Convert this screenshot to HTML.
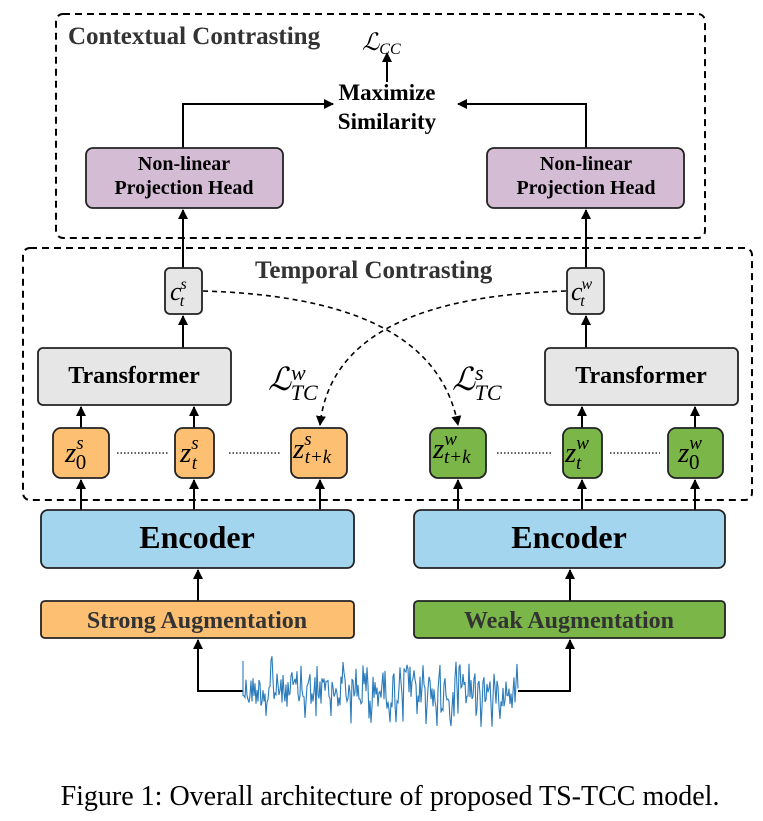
<!DOCTYPE html>
<html><head><meta charset="utf-8"><style>
html,body{margin:0;padding:0;background:#fff;width:763px;height:821px;overflow:hidden}
svg text{font-family:"Liberation Serif",serif}
</style></head><body>
<svg width="763" height="821" viewBox="0 0 763 821" xmlns="http://www.w3.org/2000/svg">
<defs>
<marker id="a" markerWidth="10" markerHeight="10" refX="9" refY="5" orient="auto" markerUnits="userSpaceOnUse"><path d="M0,0 L10,5 L0,10 z" fill="#000"/></marker>
</defs>
<g fill="none" stroke="#000" stroke-width="2" stroke-dasharray="7,5">
<rect x="56" y="14" width="649" height="224" rx="7"/>
<rect x="23" y="248" width="729" height="252" rx="7"/>
</g>
<text x="68" y="44" font-size="25" font-weight="bold" fill="#333">Contextual Contrasting</text>
<text x="255" y="278" font-size="25" font-weight="bold" fill="#333">Temporal Contrasting</text>
<text x="362" y="50" font-size="24" font-style="italic">ℒ<tspan font-size="16" dy="4">CC</tspan></text>
<text x="387" y="100" font-size="23" font-weight="bold" text-anchor="middle">Maximize</text>
<text x="387" y="129" font-size="23" font-weight="bold" text-anchor="middle">Similarity</text>
<g stroke="#000" stroke-width="2" fill="none">
<line x1="387" y1="82" x2="387" y2="53" marker-end="url(#a)"/>
<polyline points="183,148 183,104 333,104" marker-end="url(#a)"/>
<polyline points="586,148 586,104 458,104" marker-end="url(#a)"/>
<line x1="183" y1="268" x2="183" y2="210" marker-end="url(#a)"/>
<line x1="586" y1="268" x2="586" y2="210" marker-end="url(#a)"/>
<line x1="183" y1="348" x2="183" y2="316" marker-end="url(#a)"/>
<line x1="586" y1="348" x2="586" y2="316" marker-end="url(#a)"/>
<line x1="81" y1="428" x2="81" y2="407" marker-end="url(#a)"/>
<line x1="194" y1="428" x2="194" y2="407" marker-end="url(#a)"/>
<line x1="582" y1="428" x2="582" y2="407" marker-end="url(#a)"/>
<line x1="695" y1="428" x2="695" y2="407" marker-end="url(#a)"/>
<line x1="81" y1="510" x2="81" y2="480" marker-end="url(#a)"/>
<line x1="194" y1="510" x2="194" y2="480" marker-end="url(#a)"/>
<line x1="320" y1="510" x2="320" y2="480" marker-end="url(#a)"/>
<line x1="458" y1="510" x2="458" y2="480" marker-end="url(#a)"/>
<line x1="582" y1="510" x2="582" y2="480" marker-end="url(#a)"/>
<line x1="695" y1="510" x2="695" y2="480" marker-end="url(#a)"/>
<line x1="198" y1="601" x2="198" y2="570" marker-end="url(#a)"/>
<line x1="570" y1="601" x2="570" y2="570" marker-end="url(#a)"/>
<polyline points="243,691 198,691 198,640" marker-end="url(#a)"/>
<polyline points="518,691 570,691 570,640" marker-end="url(#a)"/>
</g>
<g stroke="#000" stroke-width="1.6" fill="none" stroke-dasharray="5,4">
<path d="M203,291 C340,295 440,330 458,425" marker-end="url(#a)"/>
<path d="M566,291 C430,295 330,330 320,425" marker-end="url(#a)"/>
</g>
<g stroke="#000" stroke-width="1.3" stroke-dasharray="1.5,2">
<line x1="117" y1="453" x2="168" y2="453"/><line x1="229" y1="453" x2="280" y2="453"/>
<line x1="497" y1="453" x2="553" y2="453"/><line x1="610" y1="453" x2="660" y2="453"/>
</g>
<g stroke="#222" stroke-width="1.8">
<rect x="86" y="148" width="197" height="60" rx="7" fill="#d5bcd5"/>
<rect x="487" y="148" width="197" height="60" rx="7" fill="#d5bcd5"/>
<rect x="165" y="268" width="37" height="46" rx="5" fill="#e6e6e6"/>
<rect x="567" y="268" width="37" height="46" rx="5" fill="#e6e6e6"/>
<rect x="38" y="348" width="193" height="57" rx="5" fill="#e6e6e6"/>
<rect x="545" y="348" width="193" height="57" rx="5" fill="#e6e6e6"/>
<rect x="53" y="428" width="56" height="50" rx="8" fill="#fdc072"/>
<rect x="175" y="428" width="39" height="50" rx="8" fill="#fdc072"/>
<rect x="291" y="428" width="56" height="50" rx="8" fill="#fdc072"/>
<rect x="430" y="428" width="56" height="50" rx="8" fill="#7ab648"/>
<rect x="563" y="428" width="39" height="50" rx="8" fill="#7ab648"/>
<rect x="668" y="428" width="55" height="50" rx="8" fill="#7ab648"/>
<rect x="41" y="510" width="313" height="58" rx="7" fill="#a3d5ef"/>
<rect x="414" y="510" width="311" height="58" rx="7" fill="#a3d5ef"/>
<rect x="41" y="601" width="313" height="37" rx="4" fill="#fdc072"/>
<rect x="414" y="601" width="311" height="37" rx="4" fill="#7ab648"/>
</g>
<g font-size="20" text-anchor="middle" font-weight="bold">
<text x="184" y="170">Non-linear</text><text x="184" y="194">Projection Head</text>
<text x="586" y="170">Non-linear</text><text x="586" y="194">Projection Head</text>
</g>
<text x="134" y="383" font-size="24" font-weight="bold" text-anchor="middle">Transformer</text>
<text x="641" y="383" font-size="24" font-weight="bold" text-anchor="middle">Transformer</text>
<text x="197" y="548" font-size="32" font-weight="bold" text-anchor="middle">Encoder</text>
<text x="569" y="548" font-size="32" font-weight="bold" text-anchor="middle">Encoder</text>
<text x="197" y="628" font-size="24" font-weight="bold" text-anchor="middle" fill="#333">Strong Augmentation</text>
<text x="569" y="628" font-size="24" font-weight="bold" text-anchor="middle" fill="#333">Weak Augmentation</text>
<g font-style="italic">
<text x="170" y="300" font-size="26">c<tspan font-size="16" dx="-1" dy="-11">s</tspan><tspan font-size="16" dx="-7" dy="17">t</tspan></text>
<text x="571" y="300" font-size="26">c<tspan font-size="16" dx="-1" dy="-11">w</tspan><tspan font-size="16" dx="-12" dy="17">t</tspan></text>
<text x="65" y="462" font-size="29">z<tspan font-size="19" dy="-13">s</tspan><tspan font-size="21" font-style="normal" dx="-8" dy="20">0</tspan></text>
<text x="180" y="462" font-size="29">z<tspan font-size="19" dy="-13">s</tspan><tspan font-size="19" dx="-7" dy="20">t</tspan></text>
<text x="293" y="458" font-size="29">z<tspan font-size="19" dy="-13">s</tspan><tspan font-size="19" dx="-7" dy="18">t+k</tspan></text>
<text x="433" y="458" font-size="29">z<tspan font-size="19" dy="-13">w</tspan><tspan font-size="19" dx="-13" dy="18">t+k</tspan></text>
<text x="565" y="462" font-size="29">z<tspan font-size="19" dy="-13">w</tspan><tspan font-size="19" dx="-13" dy="20">t</tspan></text>
<text x="678" y="462" font-size="29">z<tspan font-size="19" dy="-13">w</tspan><tspan font-size="21" font-style="normal" dx="-13" dy="20">0</tspan></text>
<text x="268" y="390" font-size="32">ℒ<tspan font-size="22" dy="-10">w</tspan><tspan font-size="22" dx="-15" dy="20">TC</tspan></text>
<text x="452" y="390" font-size="32">ℒ<tspan font-size="22" dy="-10">s</tspan><tspan font-size="22" dx="-9" dy="20">TC</tspan></text>
</g>
<path id="sig" fill="none" stroke="#2b7bba" stroke-width="1.1" d=""/>
<text x="390" y="805" font-size="28" text-anchor="middle">Figure 1: Overall architecture of proposed TS-TCC model.</text>
</svg>
<script>
(function(){var s=12345;function r(){s=(s*1103515245+12345)%2147483648;return s/2147483648;}
var d="M243,661";var y=690;for(var x=243;x<=518;x+=1){var v=690+(r()-0.5)*45;if(r()<0.15)v=(r()<0.5)?652+r()*12:720+r()*15;y=0.2*y+0.8*v;y=Math.max(650,Math.min(736,y));d+=" L"+x.toFixed(1)+","+y.toFixed(1);}
document.getElementById("sig").setAttribute("d",d);})();
</script>
</body></html>
